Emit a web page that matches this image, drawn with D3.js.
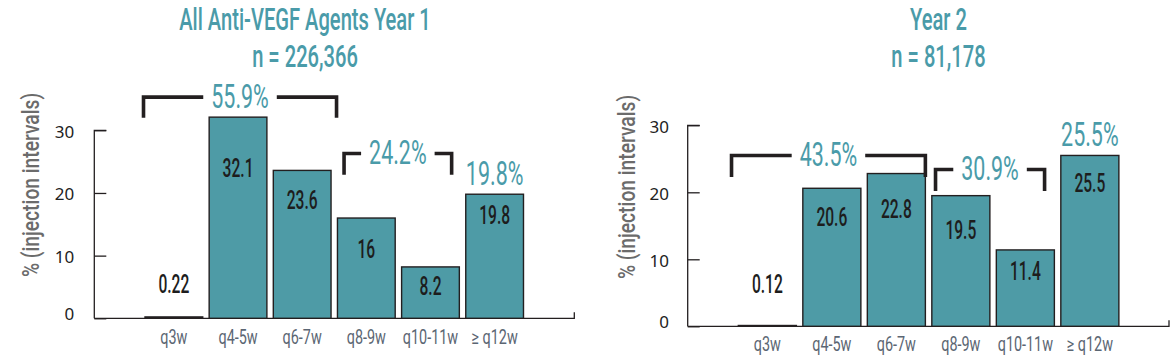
<!DOCTYPE html>
<html><head><meta charset="utf-8">
<script src="https://cdn.jsdelivr.net/npm/d3@7"></script>
<style>body{margin:0;background:#fff}svg{display:block}</style>
</head><body>
<script>
// ---------- data ----------
const categories = ["q3w", "q4-5w", "q6-7w", "q8-9w", "q10-11w", "\u2265 q12w"];
const year1Values = [0.22, 32.1, 23.6, 16, 8.2, 19.8];
const year2Values = [0.12, 20.6, 22.8, 19.5, 11.4, 25.5];
const yTickValues = [0, 10, 20, 30];
const year1Groups = [[0, 2], [3, 4], [5, 5]];
const year2Groups = [[0, 2], [3, 4], [5, 5]];
const year1Titles = ["All Anti-VEGF Agents Year 1", "n = 226,366"];
const year2Titles = ["Year 2", "n = 81,178"];
const yAxisTitle = "% (injection intervals)";

// ---------- layout / style ----------
const TEAL = "#4e9ba6", TEAL_TXT = "#4a9ba9", INK = "#231f20";
const panels = [
  { values: year1Values, groups: year1Groups, titles: year1Titles,
    axisX: [94.3, 574.3], yRange: [318.3, 130.3], bandRange: [141.8, 526.7],
    titleX: 305, titleY: [30, 66.7], yTitleX: 31, yTitleY: 185, tickLabelGap: 20,
    valueLabelAt: [4.1, 22.6, 17.4, 9.7, 3.7, 15.1],
    brackets: [{ top: 35.3, bottom: 32.0, dx0: -1.5, dx1: 5.5 }, { top: 26.3, bottom: 22.9, dx0: 6.6, dx1: -7.7 }, null],
    xLabelY: 344 },
  { values: year2Values, groups: year2Groups, titles: year2Titles,
    axisX: [687.7, 1169], yRange: [326.3, 125.3], bandRange: [735.1, 1122.1],
    titleX: 938.5, titleY: [30, 66.7], yTitleX: 627, yTitleY: 187, tickLabelGap: 18.7,
    valueLabelAt: [4.9, 15.0, 16.2, 13.0, 6.9, 20.0],
    brackets: [{ top: 25.5, bottom: 22.3, dx0: -6.8, dx1: 0 }, { top: 23.4, bottom: 20.2, dx0: 3.7, dx1: -9.8 }, null],
    xLabelY: 351 }
];

const svg = d3.select("body").append("svg").attr("width", 1174).attr("height", 362);

function condText(g, x, y, str, o) {
  return g.append("text")
    .attr("transform", `translate(${x},${y}) scale(${o.sx},1)`)
    .attr("text-anchor", "middle")
    .attr("font-family", "Roboto, 'Open Sans', sans-serif")
    .attr("font-size", o.size)
    .attr("font-weight", o.weight || 400)
    .attr("fill", o.fill)
    .text(str);
}

panels.forEach(p => {
  const g = svg.append("g");
  const x = d3.scaleBand().domain(categories).range(p.bandRange).paddingInner(0.1).paddingOuter(0.05);
  const y = d3.scaleLinear().domain([0, 30]).range(p.yRange);
  const base = y(0);

  // titles
  p.titles.forEach((t, i) => condText(g, p.titleX, p.titleY[i], t, { size: 31, weight: 500, fill: TEAL_TXT, sx: 0.65 }));

  // y axis (ticks pointing inward)
  const yAxis = d3.axisRight(y).tickValues(yTickValues).tickSize(12).tickFormat("");
  const ya = g.append("g").attr("transform", `translate(${p.axisX[0]},0)`).call(yAxis);
  ya.select(".domain").attr("d", `M12,${y(30)}H0V${base}`).attr("stroke", INK).attr("stroke-width", 1.3);
  ya.selectAll(".tick line").attr("stroke", INK).attr("stroke-width", 1.3);
  g.selectAll(".ytl").data(yTickValues).enter().append("text")
    .attr("x", p.axisX[0] - p.tickLabelGap)
    .attr("y", d => y(d) + (d === 0 ? -5 : 1))
    .attr("text-anchor", "end").attr("dominant-baseline", "central")
    .attr("font-family", "'Noto Sans', sans-serif").attr("font-size", 17)
    .attr("fill", "#222").text(d => d);

  // x axis
  g.append("path").attr("d", `M${p.axisX[0]},${base}H${p.axisX[1]}V${base - 6}`)
    .attr("fill", "none").attr("stroke", INK).attr("stroke-width", 1.3);

  // bars
  g.selectAll(".bar").data(p.values).enter().append("rect")
    .attr("x", (d, i) => x(categories[i]))
    .attr("y", d => y(d))
    .attr("width", x.bandwidth())
    .attr("height", d => base - y(d))
    .attr("fill", TEAL).attr("stroke", INK).attr("stroke-width", 1.4);

  // value labels
  p.values.forEach((v, i) => {
    condText(g, x(categories[i]) + x.bandwidth() / 2, y(p.valueLabelAt[i]), String(v),
      { size: 26, weight: 500, fill: "#1d1d1d", sx: 0.6 });
  });

  // x labels
  categories.forEach(c => condText(g, x(c) + x.bandwidth() / 2, p.xLabelY, c, { size: 20, fill: "#5b6673", sx: 0.72 }));

  // group brackets and percentages
  p.groups.forEach((gr, k) => {
    const sum = d3.sum(p.values.slice(gr[0], gr[1] + 1));
    const label = sum.toFixed(1) + "%";
    const br = p.brackets[k];
    const sx = 0.65;
    if (br) {
      const x0 = x(categories[gr[0]]) + br.dx0;
      const x1 = x(categories[gr[1]]) + x.bandwidth() + br.dx1;
      const yt = y(br.top), yb = y(br.bottom);
      const cx = (x0 + x1) / 2;
      const t = condText(g, cx, yt + 10.5, label, { size: 33, fill: TEAL_TXT, sx });
      const w = t.node().getComputedTextLength() * sx;
      const pad = 8;
      g.append("path").attr("d", `M${x0},${yb}V${yt}H${cx - w / 2 - pad}M${cx + w / 2 + pad},${yt}H${x1}V${yb}`)
        .attr("fill", "none").attr("stroke", INK).attr("stroke-width", 3.6).attr("stroke-linejoin", "miter");
    } else {
      const c = categories[gr[0]];
      condText(g, x(c) + x.bandwidth() / 2, y(p.values[gr[0]]) - 9, label, { size: 33, fill: TEAL_TXT, sx });
    }
  });

  // y title
  g.append("text")
    .attr("transform", `translate(${p.yTitleX},${p.yTitleY}) rotate(-90) scale(0.8,1)`)
    .attr("text-anchor", "middle").attr("dominant-baseline", "central")
    .attr("font-family", "Roboto, sans-serif").attr("font-size", 24).attr("font-weight", 500)
    .attr("fill", "#6b6b6b").text(yAxisTitle);
});
</script>
</body></html>
